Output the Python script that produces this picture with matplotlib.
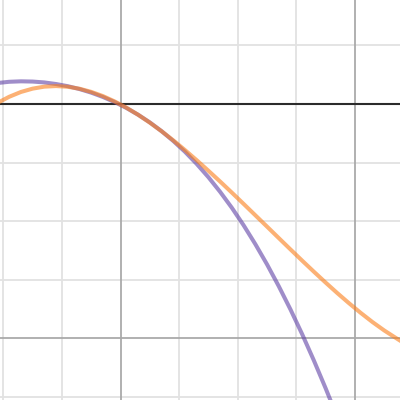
import numpy as np
import matplotlib
matplotlib.use("Agg")
import matplotlib.pyplot as plt

# curve samples (grid units, one minor square = 1)
purple_x = [-2.1, -1.9, -1.7, -1.5, -1.3, -1.1, -0.9, -0.7, -0.5, -0.3, -0.1,
            0.1, 0.3, 0.5, 0.7, 0.9, 1.1, 1.3, 1.5, 1.7, 1.9, 2.1, 2.3, 2.5,
            2.7, 2.9, 3.1, 3.3, 3.5, 3.7]
purple_y = [0.358, 0.379, 0.387, 0.383, 0.368, 0.341, 0.304, 0.255, 0.194, 0.120, 0.033,
            -0.067, -0.183, -0.314, -0.463, -0.630, -0.815, -1.022, -1.249, -1.499, -1.771,
            -2.068, -2.390, -2.736, -3.108, -3.505, -3.928, -4.377, -4.850, -5.346]

orange_x = [-2.1, -1.9, -1.7, -1.5, -1.3, -1.1, -0.9, -0.7, -0.5, -0.3, -0.1,
            0.1, 0.3, 0.5, 0.7, 0.9, 1.1, 1.3, 1.5, 1.7, 1.9, 2.1, 2.3, 2.5,
            2.7, 2.9, 3.1, 3.3, 3.5, 3.7, 3.9, 4.1, 4.3, 4.5, 4.7, 4.9]
orange_y = [0.018, 0.123, 0.205, 0.262, 0.296, 0.306, 0.294, 0.261, 0.207, 0.135, 0.044,
            -0.062, -0.183, -0.318, -0.464, -0.620, -0.786, -0.959, -1.139, -1.323, -1.512,
            -1.704, -1.898, -2.092, -2.287, -2.481, -2.673, -2.862, -3.047, -3.227, -3.400,
            -3.565, -3.721, -3.864, -3.993, -4.120]

minor_x = [-2, -1, 1, 2, 3]
major_x = [0, 4]
minor_y = [-5, -3, -2, -1, 1]
major_y = [-4]
axis_y = [0]

fig = plt.figure(figsize=(4, 4), dpi=100)
ax = fig.add_axes([0, 0, 1, 1])

for x in minor_x:
    ax.axvline(x, color='#e2e2e2', lw=1.3, zorder=1)
for y in minor_y:
    ax.axhline(y, color='#e2e2e2', lw=1.3, zorder=1)
for x in major_x:
    ax.axvline(x, color='#aaaaaa', lw=1.3, zorder=2)
for y in major_y:
    ax.axhline(y, color='#aaaaaa', lw=1.3, zorder=2)
for y in axis_y:
    ax.axhline(y, color='#2b2b2b', lw=1.5, zorder=3)

ax.plot(purple_x, purple_y, color='#6042a6', alpha=0.6, lw=2.9,
        solid_capstyle='round', zorder=4)
ax.plot(orange_x, orange_y, color='#fa7e19', alpha=0.6, lw=2.9,
        solid_capstyle='round', zorder=5)

ax.set_xlim(-120.5 / 58.6, 279.5 / 58.6)
ax.set_ylim(-296 / 58.6, 104 / 58.6)
ax.axis('off')

fig.savefig('out.png', dpi=100)
